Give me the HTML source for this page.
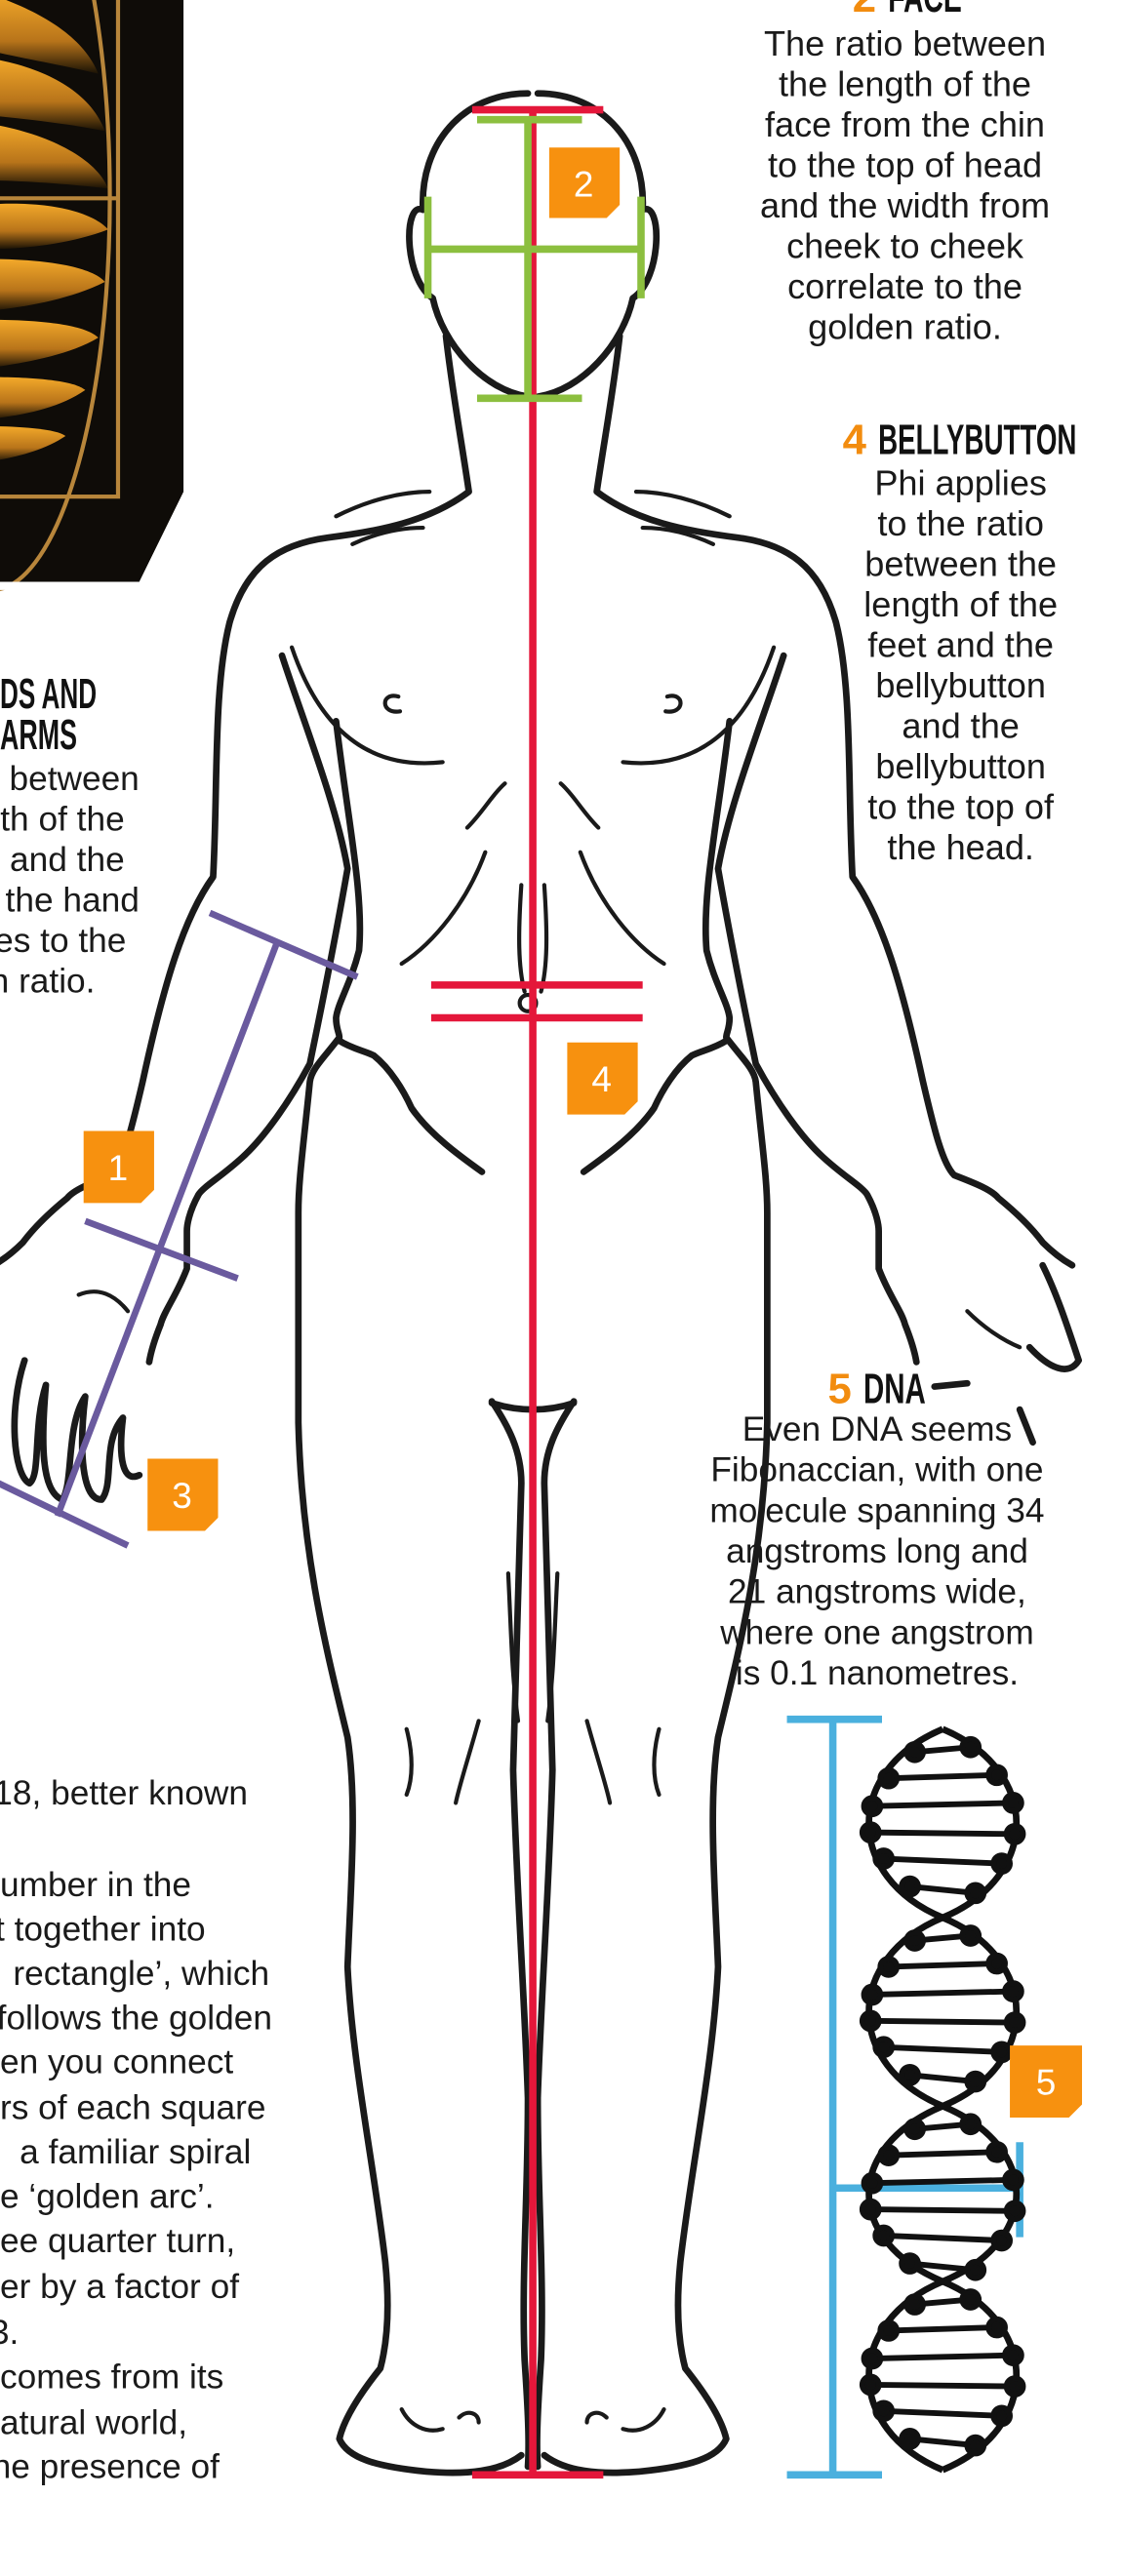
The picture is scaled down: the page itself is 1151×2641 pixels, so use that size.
<!DOCTYPE html>
<html><head><meta charset="utf-8">
<style>
html,body{margin:0;padding:0;background:#fff;}
svg{display:block;}
.b{fill:none;stroke:#1a1a1a;stroke-width:4;stroke-linecap:round;stroke-linejoin:round;}
.t{stroke:#1a1a1a;stroke-width:2.5;fill:none;stroke-linecap:round;}
.n{font-family:"Liberation Sans Narrow","Liberation Sans",sans-serif;font-size:21.5px;fill:#1a1a1a;}
.s{font-family:"Liberation Sans",sans-serif;font-size:21px;fill:#1a1a1a;}
.h{font-family:"Liberation Sans Narrow","Liberation Sans",sans-serif;font-weight:bold;font-size:26px;fill:#111;}
.o{fill:#f28c0f;}
.bx{fill:#f7910f;}
.bt{font-family:"Liberation Sans",sans-serif;font-size:22px;fill:#fff;text-anchor:middle;}
</style></head>
<body>
<svg width="1151" height="2641" viewBox="0 0 685 1571.7" preserveAspectRatio="none" xmlns="http://www.w3.org/2000/svg">
<defs>
<linearGradient id="g1" x1="0" y1="0" x2="0" y2="1">
<stop offset="0" stop-color="#f3a92a"/><stop offset="0.6" stop-color="#b8741a"/><stop offset="1" stop-color="#1a1205"/>
</linearGradient>
<clipPath id="cp"><ellipse cx="-5" cy="120" rx="72" ry="240"/></clipPath>
</defs>

<!-- golden panel -->
<polygon points="0,0 112,0 112,300 85,355 0,355" fill="#0f0c08"/>
<g clip-path="url(#cp)">
<path d="M-10,-5 C20,5 50,20 60,45 C40,40 10,35 -10,30Z" fill="url(#g1)"/>
<path d="M-10,35 C25,40 55,55 64,80 C40,75 10,72 -10,70Z" fill="url(#g1)"/>
<path d="M-10,75 C25,80 58,95 66,115 C40,112 10,110 -10,110Z" fill="url(#g1)"/>
<path d="M-10,125 C25,122 55,128 66,140 C40,150 10,152 -10,152Z" fill="url(#g1)"/>
<path d="M-10,158 C25,158 55,162 64,172 C40,184 10,188 -10,190Z" fill="url(#g1)"/>
<path d="M-10,195 C25,195 52,198 60,206 C40,218 10,222 -10,225Z" fill="url(#g1)"/>
<path d="M-10,230 C20,230 45,232 52,238 C35,250 10,254 -10,256Z" fill="url(#g1)"/>
<path d="M-10,260 C15,260 35,262 40,266 C25,276 5,280 -10,282Z" fill="url(#g1)"/>
</g>
<ellipse cx="-5" cy="120" rx="72" ry="240" fill="none" stroke="#b8863b" stroke-width="2.5"/>
<rect x="-5" y="-5" width="77" height="308" fill="none" stroke="#b8863b" stroke-width="2.5"/>
<line x1="0" y1="121" x2="72" y2="121" stroke="#b8863b" stroke-width="2.5"/>
<polygon points="112,0 120,0 120,360 0,360 0,355 85,355 112,300" fill="#fff"/>

<!-- body left half -->
<g id="half">
<path class="b" d="M322,57 C282,57 256,88 258,128 C246,122 246,170 264,182 C270,210 295,238 322,242"/>
<path class="b" d="M272,205 C276,240 282,272 286,300 C262,318 232,324 200,328 C170,332 150,345 140,380 C130,420 133,480 130,535 C112,560 100,600 87,660 C80,690 75,710 68,717 C55,722 45,726 41,731 C30,740 20,750 14,758 C8,764 3,768 -4,772"/>
<path class="b" d="M172,400 C185,440 205,490 212,530 C205,570 195,620 189,649 C175,675 160,695 148,706 C135,718 124,724 121,729 C115,740 114,748 114,751 C114,765 114,770 114,774 C108,790 100,800 98,808 C94,818 92,825 91,831"/>
<path class="b" d="M205,440 C212,500 222,545 219,580 C214,600 206,612 205,621 C205,628 207,630 207,633 C198,645 190,652 189,660 C185,700 182,720 182,740 C182,790 182,830 182,868 C184,950 200,1010 212,1060 C218,1100 214,1150 212,1200 C215,1260 228,1320 235,1380 C238,1410 236,1430 232,1445 C220,1460 210,1475 207,1488 C212,1500 230,1505 260,1508 C285,1510 305,1508 318,1498"/>
<path class="b" d="M207,635 C215,640 222,641 228,644 C238,652 246,665 251,676 C262,692 280,705 294,715" stroke-width="3"/>
<path class="b" d="M300,855 C310,870 318,885 318,905 C316,960 315,1020 313,1080 C315,1150 320,1220 322,1280 C322,1340 318,1390 320,1440 C322,1470 323,1490 322,1505"/>
<path class="b" d="M300,856 C312,860 322,860 325,860"/>
<!-- torso details -->
<path class="t" d="M178,395 C195,445 225,470 270,465" stroke-width="3"/>
<path class="t" d="M205,315 C225,305 245,300 262,300"/>
<path class="t" d="M215,332 C230,325 245,322 258,322"/>
<path class="t" d="M243,425 C232,422 232,436 244,434"/>
<path class="t" d="M285,505 C295,495 300,485 308,478"/>
<path class="t" d="M296,520 C285,550 265,575 245,588"/>
<path class="t" d="M318,540 C316,570 316,590 320,605"/>
<path class="t" d="M248,1055 C252,1070 252,1085 248,1095"/>
<path class="t" d="M292,1050 C285,1075 280,1090 278,1100"/>
<path class="t" d="M245,1470 C250,1480 260,1485 270,1482"/>
<path class="t" d="M280,1475 C285,1470 292,1472 292,1478"/>
<path class="t" d="M310,960 C312,1000 312,1020 316,1050"/>
</g>
<use href="#half" transform="translate(650,0) scale(-1,1)"/>
<circle cx="322" cy="612" r="5" class="t"/>
<!-- left hand fingers -->
<path class="b" d="M15,830 C5,860 8,900 18,905 C25,900 20,870 28,845 C25,880 25,910 38,915 C45,905 40,870 52,852 C48,885 50,915 62,915 C70,905 62,880 75,865 C72,890 75,905 85,900" stroke-width="3.5"/>
<path class="t" d="M48,790 C60,785 70,790 78,800"/>
<!-- right hand -->
<path class="b" d="M636,772 C645,790 652,812 658,830 C652,840 640,835 628,822"/>
<path class="b" d="M622,860 L630,880" stroke-width="3.5"/>
<path class="b" d="M570,846 L590,844" stroke-width="3"/>
<path class="t" d="M590,800 C600,810 612,818 622,822"/>

<!-- measurement lines -->
<g stroke-linecap="butt">
<line x1="325" y1="67" x2="325" y2="1512" stroke="#e4173a" stroke-width="4.5"/>
<line x1="288" y1="67" x2="368" y2="67" stroke="#e4173a" stroke-width="4.5"/>
<line x1="288" y1="1510" x2="368" y2="1510" stroke="#e4173a" stroke-width="4.5"/>
<line x1="263" y1="601" x2="392" y2="601" stroke="#e4173a" stroke-width="4.5"/>
<line x1="263" y1="621" x2="392" y2="621" stroke="#e4173a" stroke-width="4.5"/>
<line x1="322" y1="72" x2="322" y2="243" stroke="#8cbf3f" stroke-width="4.5"/>
<line x1="291" y1="73" x2="355" y2="73" stroke="#8cbf3f" stroke-width="4.5"/>
<line x1="291" y1="243" x2="355" y2="243" stroke="#8cbf3f" stroke-width="4.5"/>
<line x1="260" y1="152" x2="392" y2="152" stroke="#8cbf3f" stroke-width="4.5"/>
<line x1="261" y1="120" x2="261" y2="182" stroke="#8cbf3f" stroke-width="4.5"/>
<line x1="391" y1="120" x2="391" y2="182" stroke="#8cbf3f" stroke-width="4.5"/>
<line x1="128" y1="557" x2="218" y2="596" stroke="#6a5a9e" stroke-width="4"/>
<line x1="169" y1="575" x2="35" y2="925" stroke="#6a5a9e" stroke-width="4"/>
<line x1="52" y1="745" x2="145" y2="780" stroke="#6a5a9e" stroke-width="4"/>
<line x1="-5" y1="903" x2="78" y2="943" stroke="#6a5a9e" stroke-width="4"/>
<line x1="508" y1="1048" x2="508" y2="1512" stroke="#4ab0de" stroke-width="4.5"/>
<line x1="480" y1="1049" x2="538" y2="1049" stroke="#4ab0de" stroke-width="4.5"/>
<line x1="480" y1="1510" x2="538" y2="1510" stroke="#4ab0de" stroke-width="4.5"/>
<line x1="508" y1="1335" x2="622" y2="1335" stroke="#4ab0de" stroke-width="4.5"/>
<line x1="622" y1="1307" x2="622" y2="1365" stroke="#4ab0de" stroke-width="4.5"/>
</g>

<!-- DNA -->
<g stroke="#111" stroke-width="4" fill="none">
<path d="M575,1055 C515,1080 515,1145 575,1170 C515,1195 515,1260 575,1285 C515,1310 515,1367 575,1392 C515,1417 515,1482 575,1507"/>
<path d="M575,1055 C635,1080 635,1145 575,1170 C635,1195 635,1260 575,1285 C635,1310 635,1367 575,1392 C635,1417 635,1482 575,1507"/>
</g>
<g stroke="#111" stroke-width="3.5" fill="#111">
<g id="loop">
<line x1="558" y1="1069" x2="592" y2="1066"/><circle cx="558" cy="1069" r="5"/><circle cx="592" cy="1066" r="5"/>
<line x1="542" y1="1085" x2="608" y2="1083"/><circle cx="542" cy="1085" r="5"/><circle cx="608" cy="1083" r="5"/>
<line x1="532" y1="1102" x2="618" y2="1100"/><circle cx="532" cy="1102" r="5"/><circle cx="618" cy="1100" r="5"/>
<line x1="531" y1="1118" x2="619" y2="1119"/><circle cx="531" cy="1118" r="5"/><circle cx="619" cy="1119" r="5"/>
<line x1="539" y1="1134" x2="611" y2="1137"/><circle cx="539" cy="1134" r="5"/><circle cx="611" cy="1137" r="5"/>
<line x1="555" y1="1151" x2="595" y2="1155"/><circle cx="555" cy="1151" r="5"/><circle cx="595" cy="1155" r="5"/>
</g>
<use href="#loop" transform="translate(0,115)"/>
<use href="#loop" transform="translate(0,230)"/>
<use href="#loop" transform="translate(0,337)"/>
</g>

<!-- number boxes -->
<g>
<polygon class="bx" points="335,90 378,90 378,125 370,133 335,133"/><text class="bt" x="356" y="120">2</text>
<polygon class="bx" points="346,636 389,636 389,672 381,680 346,680"/><text class="bt" x="367" y="666">4</text>
<polygon class="bx" points="51,690 94,690 94,726 86,734 51,734"/><text class="bt" x="72" y="720">1</text>
<polygon class="bx" points="90,890 133,890 133,926 125,934 90,934"/><text class="bt" x="111" y="920">3</text>
<polygon class="bx" points="616,1248 660,1248 660,1284 652,1292 616,1292"/><text class="bt" x="638" y="1278">5</text>
</g>

<!-- FACE text -->
<text class="h" x="520" y="7"><tspan class="o">2</tspan> <tspan textLength="45" lengthAdjust="spacingAndGlyphs">FACE</tspan></text>
<g class="n" text-anchor="middle">
<text x="552" y="34">The ratio between</text>
<text x="552" y="58.7">the length of the</text>
<text x="552" y="83.4">face from the chin</text>
<text x="552" y="108.1">to the top of head</text>
<text x="552" y="132.8">and the width from</text>
<text x="552" y="157.5">cheek to cheek</text>
<text x="552" y="182.2">correlate to the</text>
<text x="552" y="206.9">golden ratio.</text>
</g>

<!-- BELLYBUTTON -->
<text class="h" x="514" y="277"><tspan class="o">4</tspan> <tspan textLength="121" lengthAdjust="spacingAndGlyphs">BELLYBUTTON</tspan></text>
<g class="n" text-anchor="middle">
<text x="586" y="302">Phi applies</text>
<text x="586" y="326.7">to the ratio</text>
<text x="586" y="351.4">between the</text>
<text x="586" y="376.1">length of the</text>
<text x="586" y="400.8">feet and the</text>
<text x="586" y="425.5">bellybutton</text>
<text x="586" y="450.2">and the</text>
<text x="586" y="474.9">bellybutton</text>
<text x="586" y="499.6">to the top of</text>
<text x="586" y="524.3">the head.</text>
</g>

<!-- left arm text -->
<g class="h">
<text x="0" y="432" textLength="59" lengthAdjust="spacingAndGlyphs">DS AND</text>
<text x="0" y="457" textLength="47" lengthAdjust="spacingAndGlyphs">ARMS</text>
</g>
<g class="s" text-anchor="end">
<text x="85" y="482">between</text>
<text x="76" y="506.7">th of the</text>
<text x="76" y="531.4">and the</text>
<text x="85" y="556.1">the hand</text>
<text x="77" y="580.8">es to the</text>
<text x="58" y="605.5">n ratio.</text>
</g>

<!-- DNA text -->
<text class="h" x="505" y="856"><tspan class="o">5</tspan> <tspan textLength="38" lengthAdjust="spacingAndGlyphs">DNA</tspan></text>
<g class="s" text-anchor="middle">
<text x="535" y="879">Even DNA seems</text>
<text x="535" y="903.8">Fibonaccian, with one</text>
<text x="535" y="928.6">molecule spanning 34</text>
<text x="535" y="953.4">angstroms long and</text>
<text x="535" y="978.2">21 angstroms wide,</text>
<text x="535" y="1003">where one angstrom</text>
<text x="535" y="1027.8">is 0.1 nanometres.</text>
</g>

<!-- bottom-left text -->
<g class="s">
<text x="-4" y="1101">18, better known</text>
<text x="0" y="1157">umber in the</text>
<text x="-3" y="1184">t together into</text>
<text x="8" y="1211">rectangle’, which</text>
<text x="-2" y="1238">follows the golden</text>
<text x="0" y="1265">en you connect</text>
<text x="0" y="1293">rs of each square</text>
<text x="12" y="1320">a familiar spiral</text>
<text x="0" y="1347">e ‘golden arc’.</text>
<text x="0" y="1374">ee quarter turn,</text>
<text x="0" y="1402">er by a factor of</text>
<text x="-6" y="1430">3.</text>
<text x="0" y="1457">comes from its</text>
<text x="0" y="1485">atural world,</text>
<text x="-5" y="1512">he presence of</text>
</g>
</svg>
</body></html>
